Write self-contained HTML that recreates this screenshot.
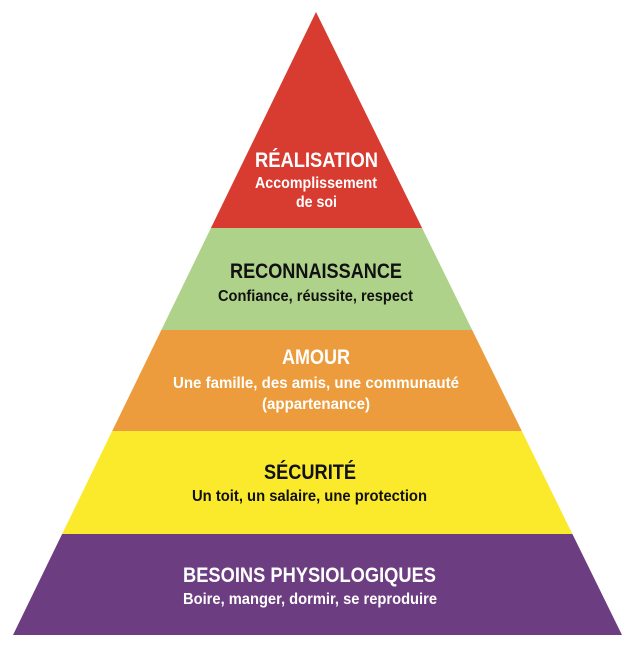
<!DOCTYPE html>
<html><head><meta charset="utf-8"><style>html,body{margin:0;padding:0;background:#fff}svg{display:block}</style></head>
<body>
<svg width="632" height="647" viewBox="0 0 632 647" xmlns="http://www.w3.org/2000/svg">
<defs><clipPath id="t"><polygon points="316,12 622,635 13,635"/></clipPath></defs>
<g clip-path="url(#t)">
<rect x="0" y="0" width="632" height="228" fill="#d83b30"/>
<rect x="0" y="228" width="632" height="102" fill="#afd28a"/>
<rect x="0" y="330" width="632" height="101" fill="#ec9c3c"/>
<rect x="0" y="431" width="632" height="103" fill="#fbe92c"/>
<rect x="0" y="534" width="632" height="101" fill="#6c3d80"/>
</g>
<g font-family="Liberation Sans Narrow, Liberation Sans, sans-serif" font-weight="bold" text-anchor="start">
<text x="255" y="167" font-size="21" fill="#fff" textLength="123" lengthAdjust="spacingAndGlyphs">RÉALISATION</text>
<text x="255" y="188" font-size="16" fill="#fff" textLength="122" lengthAdjust="spacingAndGlyphs">Accomplissement</text>
<text x="296" y="207" font-size="16" fill="#fff" textLength="41" lengthAdjust="spacingAndGlyphs">de soi</text>
<text x="230" y="278" font-size="21" fill="#111" textLength="172" lengthAdjust="spacingAndGlyphs">RECONNAISSANCE</text>
<text x="218" y="301" font-size="16" fill="#111" textLength="195" lengthAdjust="spacingAndGlyphs">Confiance, réussite, respect</text>
<text x="282" y="364" font-size="21" fill="#fff" textLength="68" lengthAdjust="spacingAndGlyphs">AMOUR</text>
<text x="173" y="388" font-size="16" fill="#fff" textLength="286" lengthAdjust="spacingAndGlyphs">Une famille, des amis, une communauté</text>
<text x="262" y="409" font-size="16" fill="#fff" textLength="108" lengthAdjust="spacingAndGlyphs">(appartenance)</text>
<text x="264" y="479" font-size="21" fill="#111" textLength="92" lengthAdjust="spacingAndGlyphs">SÉCURITÉ</text>
<text x="192" y="501" font-size="16" fill="#111" textLength="235" lengthAdjust="spacingAndGlyphs">Un toit, un salaire, une protection</text>
<text x="183" y="582" font-size="21" fill="#fff" textLength="253" lengthAdjust="spacingAndGlyphs">BESOINS PHYSIOLOGIQUES</text>
<text x="183" y="604" font-size="16" fill="#fff" textLength="254" lengthAdjust="spacingAndGlyphs">Boire, manger, dormir, se reproduire</text>
</g>
</svg>
</body></html>
